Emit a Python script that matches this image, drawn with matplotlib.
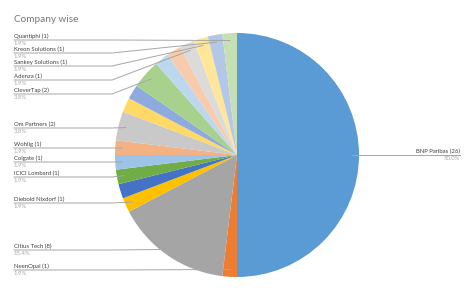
import matplotlib.pyplot as plt
import numpy as np

plt.rcParams['font.family'] = ['Lato', 'DejaVu Sans']

# slices clockwise from 12 o'clock
companies = ["BNP Paribas", "NeenOpal", "Citius Tech", "Diebold Nixdorf", "",
             "ICICI Lombard", "Colgate", "Wohlig", "Om Partners", "", "",
             "CleverTap", "", "", "Adenza", "Sankey Solutions",
             "Kreon Solutions", "Quantiphi"]
counts = [26, 1, 8, 1, 1, 1, 1, 1, 2, 1, 1, 2, 1, 1, 1, 1, 1, 1]
colors = ["#5B9BD5", "#ED7D31", "#A5A5A5", "#FFC000", "#4472C4", "#70AD47",
          "#9DC3E6", "#F4B183", "#C9C9C9", "#FFD966", "#8FAADC", "#A9D18E",
          "#BDD7EE", "#F8CBAD", "#DBDBDB", "#FFE699", "#B4C7E7", "#C5E0B4"]

# label layout (image pixel rows of the underline)
label_y = {"Quantiphi": 40, "Kreon Solutions": 53, "Sankey Solutions": 66,
           "Adenza": 80, "CleverTap": 94, "Om Partners": 128, "Wohlig": 148,
           "Colgate": 162, "ICICI Lombard": 177, "Diebold Nixdorf": 203,
           "Citius Tech": 250, "NeenOpal": 270}

W, H = 474, 292
fig = plt.figure(figsize=(W / 100, H / 100), dpi=100)
ax = fig.add_axes([0, 0, 1, 1])

cx, cy, R = 237, H - 155, 122
wedges, _ = ax.pie(counts, colors=colors, startangle=90, counterclock=False,
                   center=(cx, cy), radius=R, frame=True,
                   wedgeprops=dict(linewidth=0))
ax.set_xlim(0, W)
ax.set_ylim(0, H)
ax.set_aspect('equal')
ax.axis('off')

total = sum(counts)
line_c = "#A6A6A6"
txt_c = "#404040"
pct_c = "#A6A6A6"
fs = 4.3

for w, name, n in zip(wedges, companies, counts):
    if not name:
        continue
    ang = np.deg2rad((w.theta1 + w.theta2) / 2)
    ax_x = cx + 0.94 * R * np.cos(ang)
    ax_y = cy + 0.94 * R * np.sin(ang)
    pct = f"{100 * n / total:.1f}%"
    if name == "BNP Paribas":
        ly = ax_y
        ax.plot([ax_x, 460], [ly, ly], color=line_c, lw=0.7)
        ax.text(460, ly + 1, f"{name} ({n})", ha='right', va='bottom',
                fontsize=fs, color=txt_c)
        ax.text(460, ly - 1, pct, ha='right', va='top', fontsize=fs, color=pct_c)
        continue
    ly = H - label_y[name]
    elbow = min(ax_x, 112)
    ax.plot([14, elbow, ax_x], [ly, ly, ax_y], color=line_c, lw=0.7)
    ax.text(14, ly + 1, f"{name} ({n})", ha='left', va='bottom',
            fontsize=fs, color=txt_c)
    ax.text(14, ly - 1, pct, ha='left', va='top', fontsize=fs, color=pct_c)

fig.text(14 / W, 1 - 19 / H, "Company wise", ha='left', va='center',
         fontsize=7.2, color="#767676")

fig.savefig("out.png", dpi=100)
